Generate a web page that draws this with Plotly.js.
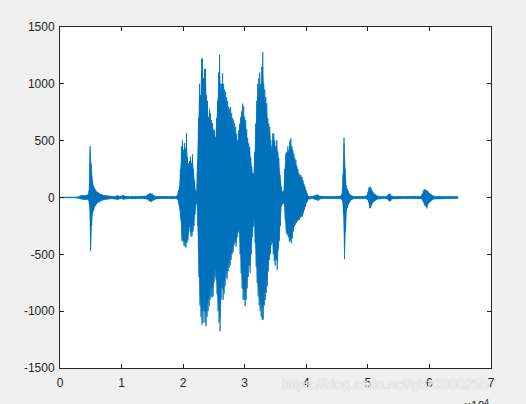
<!DOCTYPE html>
<html>
<head>
<meta charset="utf-8">
<script src="https://cdn.plot.ly/plotly-3.0.1.min.js"></script>
<style>
html,body{margin:0;padding:0;background:#f0f0f0;}
#chart{width:526px;height:404px;}
</style>
</head>
<body>
<div id="chart"></div>
<script>
// Audio waveform envelope: per analysis frame, max and min sample value
const samplesPerFrame = 163;
const frameIdx = [
  0,3,6,9,12,15,18,20,22,24,
  26,28,29,30,31,32,33,34,35,36,
  37,38,39,40,42,44,46,48,51,54,
  57,60,63,66,69,72,75,78,81,84,
  86,88,90,92,94,97,100,103,106,109,
  112,115,117,118,119,120,121,122,123,124,
  125,126,127,128,129,130,131,132,133,134,
  135,136,137,138,139,140,141,142,143,144,
  145,146,147,148,149,150,151,152,153,154,
  155,156,157,158,159,160,161,162,163,164,
  165,166,167,168,169,170,171,172,173,174,
  175,176,177,178,179,180,181,182,183,184,
  185,186,187,188,189,190,191,192,193,194,
  195,196,197,198,199,200,201,202,203,204,
  205,206,207,208,209,210,211,212,213,214,
  215,216,217,218,219,220,221,222,223,224,
  225,226,227,228,229,230,231,232,233,234,
  235,236,237,238,239,240,241,242,243,244,
  245,246,247,248,251,254,256,257,258,261,
  264,267,270,273,276,279,281,282,283,284,
  285,286,287,288,290,292,295,298,301,304,
  306,307,308,309,310,311,312,314,316,319,
  322,325,327,328,329,330,333,336,339,342,
  345,348,351,354,357,360,361,362,363,364,
  365,366,367,368,370,372,375,378,381,384,
  387,390,393,396
];
const envMax = [
  2,2,3,2,3,3,6,15,20,17,
  21,26,60,452,300,150,110,90,70,60,
  50,45,35,30,25,20,18,15,12,10,
  18,12,20,11,10,12,9,10,11,12,
  15,30,40,32,15,10,12,9,11,10,
  12,10,20,60,90,250,450,504,420,480,
  430,565,350,300,320,360,300,381,250,150,
  60,40,300,700,1000,900,1223,1221,1050,1130,
  1133,900,850,709,780,741,680,653,600,592,
  533,700,850,1100,1256,1000,1001,1092,1000,950,
  928,880,850,800,780,796,740,700,680,650,
  621,560,504,592,650,709,760,826,800,709,
  680,600,520,475,446,350,270,212,212,400,
  651,850,1001,1050,1100,1000,1150,1279,1000,950,
  884,829,700,651,621,504,450,563,563,500,
  450,504,400,350,200,95,60,50,60,250,
  387,400,450,420,500,519,450,420,387,350,
  329,280,250,212,200,197,182,150,120,95,
  66,40,15,10,11,20,25,24,15,10,
  11,10,9,12,10,11,30,200,525,250,
  110,80,60,40,20,12,10,11,10,12,
  20,50,90,95,80,60,45,30,15,10,
  11,10,25,35,30,15,10,11,10,12,
  10,11,10,11,10,12,30,60,72,70,
  65,60,50,40,30,15,10,11,10,12,
  10,11,10,10
];
const envMin = [
  -2,-2,-3,-3,-2,-3,-6,-14,-18,-22,
  -17,-24,-80,-469,-250,-140,-120,-80,-75,-55,
  -50,-40,-40,-30,-25,-22,-15,-15,-11,-12,
  -20,-10,-18,-12,-9,-10,-11,-10,-9,-12,
  -15,-28,-40,-30,-16,-11,-10,-10,-12,-9,
  -11,-10,-20,-60,-100,-200,-380,-388,-420,-431,
  -440,-400,-380,-300,-256,-344,-340,-300,-250,-150,
  -60,-40,-250,-700,-950,-1050,-1118,-1101,-1000,-1100,
  -1133,-1050,-1000,-957,-900,-870,-880,-870,-750,-700,
  -723,-850,-1000,-1100,-1177,-900,-800,-900,-850,-780,
  -700,-720,-650,-620,-600,-548,-500,-480,-420,-400,
  -431,-350,-300,-314,-500,-665,-800,-899,-900,-957,
  -899,-800,-700,-600,-665,-500,-350,-256,-197,-400,
  -607,-750,-870,-950,-1000,-1050,-1074,-1074,-950,-900,
  -840,-782,-650,-548,-500,-420,-400,-500,-560,-600,
  -550,-636,-450,-380,-250,-80,-60,-50,-60,-200,
  -314,-330,-350,-388,-380,-402,-360,-300,-256,-240,
  -224,-210,-200,-197,-180,-168,-168,-140,-110,-80,
  -48,-35,-15,-10,-10,-19,-25,-26,-15,-11,
  -9,-10,-11,-10,-10,-12,-30,-150,-542,-300,
  -110,-90,-60,-40,-20,-12,-10,-10,-11,-10,
  -20,-40,-95,-90,-70,-50,-40,-25,-15,-10,
  -10,-11,-25,-35,-30,-15,-10,-10,-11,-10,
  -10,-12,-10,-10,-10,-11,-30,-50,-70,-80,
  -95,-60,-50,-40,-25,-15,-10,-10,-11,-10,
  -10,-10,-9,-10
];
const xTickVals = [0,10000,20000,30000,40000,50000,60000,70000];
const xTickText = ['0','1','2','3','4','5','6','7'];
const yTickVals = [-1500,-1000,-500,0,500,1000,1500];
const yTickText = ['-1500','-1000','-500','0','500','1000','1500'];

// zig-zag trace (individual spikes) and filled body (dense core)
const xs = [], ys = [];
for (let i = 0; i < frameIdx.length; i++) {
  const s = frameIdx[i] * samplesPerFrame;
  xs.push(s); ys.push(envMax[i]);
  xs.push(s + samplesPerFrame / 2); ys.push(envMin[i]);
}
const fx = [], fy = [];
for (let i = 0; i < frameIdx.length; i++) {
  fx.push(frameIdx[i] * samplesPerFrame); fy.push(envMax[i] * 0.9);
}
for (let i = frameIdx.length - 1; i >= 0; i--) {
  fx.push(frameIdx[i] * samplesPerFrame + samplesPerFrame / 2); fy.push(envMin[i] * 0.9);
}

const axisCommon = {
  showline: true, linecolor: '#262626', linewidth: 1, mirror: 'allticks',
  ticks: 'inside', ticklen: 4, tickcolor: '#262626', tickwidth: 1,
  showgrid: false, zeroline: false,
  tickfont: {family: 'Liberation Sans, Arial, sans-serif', size: 12, color: '#262626'}
};

const layout = {
  width: 526, height: 404,
  paper_bgcolor: '#f0f0f0', plot_bgcolor: '#ffffff',
  margin: {l: 60, r: 35, t: 27, b: 36, pad: 0},
  showlegend: false,
  xaxis: Object.assign({}, axisCommon, {
    range: [0, 70000], tickvals: xTickVals, ticktext: xTickText, ticklabelstandoff: 4
  }),
  yaxis: Object.assign({}, axisCommon, {
    range: [-1500, 1500], tickvals: yTickVals, ticktext: yTickText, ticklabelstandoff: 2
  }),
  annotations: [
    {text: '×10<sup>4</sup>', xref: 'paper', yref: 'paper', x: 1, y: 0, xanchor: 'right', yanchor: 'top',
     yshift: -27, showarrow: false,
     font: {family: 'Liberation Sans, Arial, sans-serif', size: 12, color: '#262626'}},
    {text: 'https://blog.csdn.net/gbz3300255', xref: 'paper', yref: 'paper', x: 0.51, y: 0, xanchor: 'left', yanchor: 'top',
     yshift: -6, showarrow: false,
     font: {family: 'Liberation Sans, Arial, sans-serif', size: 14, color: 'rgba(248,248,248,0.9)',
            shadow: '0px 0px 1px #a8a8a8'}}
  ]
};

Plotly.newPlot('chart', [
  {x: fx, y: fy, type: 'scatter', mode: 'lines', fill: 'toself', fillcolor: '#0072BD',
   line: {color: '#0072BD', width: 0.5}, hoverinfo: 'skip'},
  {x: xs, y: ys, type: 'scatter', mode: 'lines',
   line: {color: '#0072BD', width: 0.8}, hoverinfo: 'skip'}
], layout, {staticPlot: true, displayModeBar: false});
</script>
</body>
</html>
